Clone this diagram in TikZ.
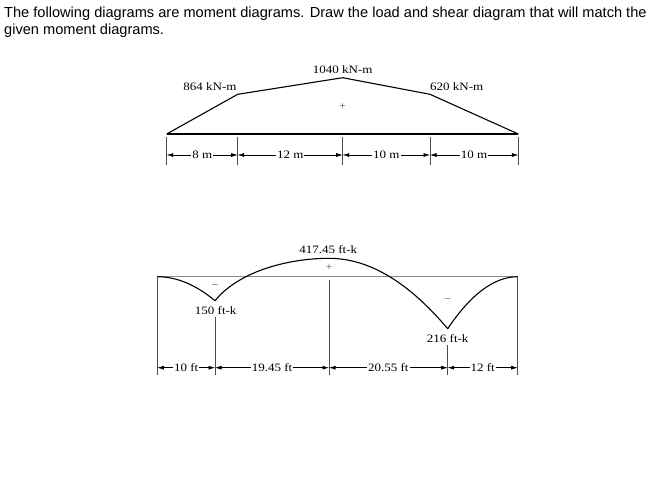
\documentclass[tikz,border=0pt]{standalone}
\usepackage{fontspec}
\setmainfont{Liberation Serif}
\newfontfamily\titlefont{Liberation Sans}
\newfontfamily\dimfont[FakeStretch=1.15]{Liberation Serif}
\usetikzlibrary{arrows.meta}

\begin{document}
\begin{tikzpicture}[
x=1pt, y=-1pt,
moment/.style={
  line width=1.1pt,
  line join=round
  },
axis/.style={
  line width=1.3pt
  },
thinaxis/.style={
  draw=black!45,
  line width=0.7pt
  },
tick/.style={
  draw=black!70,
  line width=0.6pt
  },
dim/.style={
  <->,
  line width=0.6pt
  },
dimlabel/.style={
  fill=white,
  inner sep=1pt,
  font=\dimfont\fontsize{11.3}{13}\selectfont
  },
lbl/.style={
  inner sep=0pt,
  font=\dimfont\fontsize{11.3}{13}\selectfont
  },
sign/.style={
  inner sep=0pt,
  text=black!75,
  font=\dimfont\fontsize{10}{12}\selectfont
  },
>={Latex[length=6.5pt,width=4pt]}
]
\useasboundingbox (0,0) rectangle (669,485);

% question text
\node[anchor=base west, inner sep=0pt, font=\titlefont\fontsize{14.6}{17}\selectfont] (line1) at (4,17.3)
  {The following diagrams are moment diagrams. Draw the load and shear diagram that will match the};
\node[anchor=base west, inner sep=0pt, font=\titlefont\fontsize{14.6}{17}\selectfont] (line2) at (4,34.3)
  {given moment diagrams.};

% upper diagram (kN-m)
\coordinate (a0) at (166.7,134);
\coordinate (a1) at (237.7,94.3);
\coordinate (a2) at (342.7,77.7);
\coordinate (a3) at (430,94.3);
\coordinate (a4) at (518.3,134);
\draw[axis] (a0) -- (a4);
\draw[moment] (a0) -- (a1) -- (a2) -- (a3) -- (a4);
\node[lbl] (m1) at (210,86.7) {864 kN-m};
\node[lbl] (m2) at (342.7,70) {1040 kN-m};
\node[lbl] (m3) at (456.7,86.7) {620 kN-m};
\node[sign] (plus1) at (342.7,106.7) {+};
\foreach \x [count=\i from 0] in {166.7,237.7,342.7,430,518.3}
{
  \coordinate (at\i) at (\x,136.7);
  \coordinate (ab\i) at (\x,165);
  \coordinate (ad\i) at (\x,155);
  \draw[tick] (at\i) -- (ab\i);
}
\foreach \i/\j/\len in {0/1/8 m,1/2/12 m,2/3/10 m,3/4/10 m}
  \draw[dim] (ad\i) -- node[dimlabel] {\len} (ad\j);

% lower diagram (ft-k)
\coordinate (b0) at (157.3,276.7);
\coordinate (b1) at (215,300.7);
\coordinate (b2) at (329,258.3);
\coordinate (b3) at (447.7,328.7);
\coordinate (b4) at (517.7,276.7);
\draw[thinaxis] (b0) -- (b4);
\draw[moment] (b0) .. controls (176.6,276.7) and (195.8,284.7) .. (b1)
  .. controls (240,270) and (291,258.3) .. (b2)
  .. controls (368.5,258.3) and (408.1,281.7) .. (b3)
  .. controls (471,294) and (494.4,276.7) .. (b4);
\node[lbl] (n2) at (328.3,249.3) {417.45 ft-k};
\node[sign] (plus2) at (329,267.3) {+};
\node[sign] (minus1) at (215,286.7) {–};
\node[lbl] (n1) at (215.7,311) {150 ft-k};
\node[sign] (minus2) at (447.7,300) {–};
\node[lbl] (n3) at (447.7,338.7) {216 ft-k};
\foreach \x/\top [count=\i from 0] in {157.3/276.7,215/317.3,329/280,447.7/345,517.7/276.7}
{
  \coordinate (bt\i) at (\x,\top);
  \coordinate (bb\i) at (\x,375);
  \coordinate (bd\i) at (\x,367.7);
  \draw[tick] (bt\i) -- (bb\i);
}
\foreach \i/\j/\len in {0/1/10 ft,1/2/19.45 ft,2/3/20.55 ft,3/4/12 ft}
  \draw[dim] (bd\i) -- node[dimlabel] {\len} (bd\j);
\end{tikzpicture}
\end{document}
